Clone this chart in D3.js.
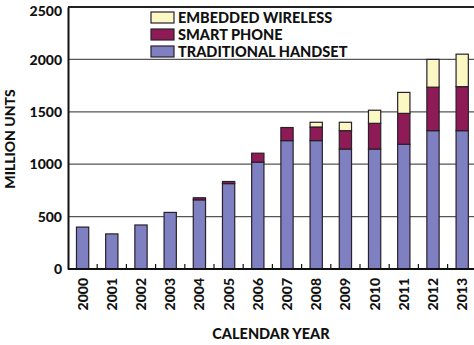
<!DOCTYPE html>
<html>
<head>
<meta charset="utf-8">
<script src="https://cdn.jsdelivr.net/npm/d3@7/dist/d3.min.js"></script>
<style>
  html, body { margin: 0; padding: 0; background: #fff; }
  svg { display: block; }
  text { font-family: Lato, "Open Sans", sans-serif; font-weight: 900; fill: #111; }
</style>
</head>
<body>
<svg id="chart" width="474" height="345"></svg>
<script>
// Handset shipments by calendar year, million units
const years = ["2000","2001","2002","2003","2004","2005","2006","2007","2008","2009","2010","2011","2012","2013"];
const traditional = [400, 335, 420, 540, 660, 815, 1020, 1225, 1225, 1145, 1145, 1190, 1320, 1320];
const smartPhone  = [0, 0, 0, 0, 20, 20, 85, 125, 130, 175, 245, 295, 415, 420];
const embedded    = [0, 0, 0, 0, 0, 0, 0, 0, 45, 80, 125, 200, 265, 310];
const yTicks = [0, 500, 1000, 1500, 2000, 2500];

const seriesKeys   = ["traditional", "smart", "embedded"];
const seriesNames  = { traditional: "TRADITIONAL HANDSET", smart: "SMART PHONE", embedded: "EMBEDDED WIRELESS" };
const seriesColors = { traditional: "#7f80c2", smart: "#8e1a56", embedded: "#fbf8c4" };

const rows = years.map((y, i) => ({
  year: y, traditional: traditional[i], smart: smartPhone[i], embedded: embedded[i]
}));

const svg = d3.select("#chart");
const plotLeft = 68, plotRight = 476.8, plotTop = 7, plotBottom = 269;
const labelFont = "Lato, sans-serif";

const x = d3.scaleBand().domain(years).range([plotLeft, plotRight]).paddingInner(0.58).paddingOuter(0.29);
const y = d3.scaleLinear().domain([0, 2500]).range([plotBottom, plotTop]);

// horizontal gridlines
svg.append("g")
  .selectAll("line")
  .data(yTicks.filter(t => t > 0))
  .join("line")
  .attr("x1", plotLeft).attr("x2", 474)
  .attr("y1", d => y(d)).attr("y2", d => y(d))
  .attr("stroke", d => d === 2500 ? "#222" : "#555")
  .attr("stroke-width", d => d === 2500 ? 2 : 1.2);

// stacked bars
const stacked = d3.stack().keys(seriesKeys)(rows);
svg.append("g")
  .selectAll("g")
  .data(stacked)
  .join("g")
  .attr("fill", s => seriesColors[s.key])
  .selectAll("rect")
  .data(s => s.filter(d => d[1] - d[0] > 0))
  .join("rect")
  .attr("x", d => x(d.data.year))
  .attr("width", x.bandwidth())
  .attr("y", d => y(d[1]))
  .attr("height", d => y(d[0]) - y(d[1]))
  .attr("stroke", "#2a1f2a")
  .attr("stroke-width", 1.2);

// y axis
const yAxis = svg.append("g")
  .attr("transform", `translate(${plotLeft},0)`)
  .call(d3.axisLeft(y).tickValues(yTicks).tickSize(0).tickPadding(6).tickFormat(d3.format("d")));
yAxis.select(".domain").attr("stroke", "#111").attr("stroke-width", 2);
yAxis.selectAll("text")
  .style("font-size", "14px").style("font-family", labelFont).style("font-weight", 900).attr("fill", "#111")
  .attr("dy", d => d === 2500 ? "0.62em" : "0.34em");

// x axis baseline with small ticks between categories
const xAxis = svg.append("g")
  .attr("transform", `translate(0,${plotBottom})`)
  .call(d3.axisBottom(x).tickSize(0).tickPadding(9));
xAxis.select(".domain").attr("stroke", "#111").attr("stroke-width", 2).attr("d", `M${plotLeft},0H474`);
xAxis.selectAll(".tick text")
  .style("font-size", "14px").style("font-family", labelFont).style("font-weight", 900).attr("fill", "#111")
  .attr("transform", "rotate(-90)")
  .attr("text-anchor", "end")
  .attr("x", -9).attr("y", 0).attr("dy", "0.35em");

svg.append("g")
  .selectAll("line")
  .data(years.slice(0, -1))
  .join("line")
  .attr("x1", d => x(d) + x.bandwidth() / 2 + x.step() / 2)
  .attr("x2", d => x(d) + x.bandwidth() / 2 + x.step() / 2)
  .attr("y1", plotBottom).attr("y2", plotBottom - 5)
  .attr("stroke", "#111").attr("stroke-width", 1.2);

// axis titles
svg.append("text")
  .attr("transform", "translate(15,139) rotate(-90)")
  .attr("text-anchor", "middle")
  .style("font-size", "14px")
  .text("MILLION UNTS");

svg.append("text")
  .attr("x", 271).attr("y", 339)
  .attr("text-anchor", "middle")
  .style("font-size", "14.5px")
  .text("CALENDAR YEAR");

// legend
const legendOrder = ["embedded", "smart", "traditional"];
const legend = svg.append("g")
  .selectAll("g")
  .data(legendOrder)
  .join("g")
  .attr("transform", (d, i) => `translate(151,${12 + i * 17})`);
legend.append("rect")
  .attr("width", 23).attr("height", 11)
  .attr("fill", d => seriesColors[d])
  .attr("stroke", "#2a1f2a").attr("stroke-width", 1.2);
legend.append("text")
  .attr("x", 27).attr("y", 11)
  .style("font-size", "14.5px")
  .text(d => seriesNames[d]);
</script>
</body>
</html>
